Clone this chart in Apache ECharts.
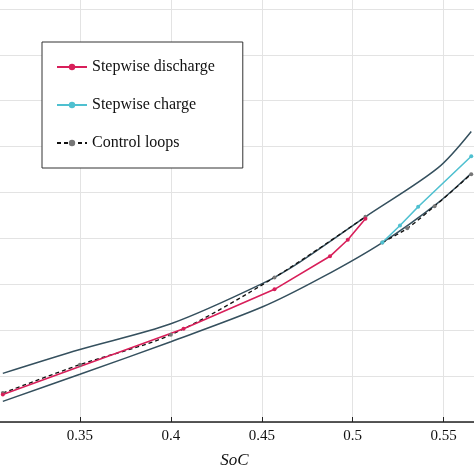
<!DOCTYPE html>
<html><head><meta charset="utf-8">
<script src="https://cdn.jsdelivr.net/npm/echarts@6/dist/echarts.min.js"></script>
<style>html,body{margin:0;padding:0;background:#fff;overflow:hidden;width:474px;height:474px;position:relative}
#c{position:absolute;left:-14px;top:-37px;width:497px;height:511px}</style>
</head><body><div id="c"></div>
<script>
// boundary curves (upper / lower)
var upperBound = [[0.3076,1.06],[0.350,1.58],[0.400,2.14],[0.4505,3.02],[0.4707,3.48],[0.507,4.47],[0.5467,5.53],[0.5652,6.33]];
var lowerBound = [[0.3076,0.45],[0.350,1.04],[0.400,1.75],[0.4505,2.51],[0.483,3.15],[0.5163,3.91],[0.5467,4.77],[0.5652,5.42]];
var discharge = [[0.3076,0.60],[0.407,2.03],[0.457,2.89],[0.4875,3.61],[0.4973,3.97],[0.507,4.43]];
var charge = [[0.5163,3.91],[0.526,4.28],[0.536,4.69],[0.5652,5.79]];
var loopA = [[0.3076,0.63],[0.350,1.25],[0.400,1.90],[0.457,3.15],[0.507,4.47]];
var loopB = [[0.5163,3.91],[0.530,4.22],[0.545,4.70],[0.5652,5.40]];
var xTicks = [0.35, 0.4, 0.45, 0.5, 0.55];

var font = 'Liberation Serif';
var chart = echarts.init(document.getElementById('c'), null, {renderer: 'canvas'});
chart.setOption({
  animation: false,
  backgroundColor: '#fff',
  grid: {left: 0, right: 0, top: 0, bottom: 48},
  legend: {
    left: 56, top: 79, orient: 'vertical', itemGap: 22,
    padding: [17, 28, 17, 14], itemWidth: 30, itemHeight: 8,
    borderColor: '#333', borderWidth: 1, backgroundColor: '#fff',
    textStyle: {fontFamily: font, fontSize: 16, color: '#111'},
    data: ['Stepwise discharge', 'Stepwise charge', 'Control loops']
  },
  xAxis: {
    type: 'value', min: 0.3, max: 0.57, interval: 0.05,
    name: 'SoC', nameLocation: 'middle', nameGap: 30,
    nameTextStyle: {fontFamily: font, fontStyle: 'italic', fontSize: 17, color: '#111'},
    axisLine: {lineStyle: {color: '#222', width: 1.5}},
    axisTick: {inside: true, length: 5, lineStyle: {color: '#222'}},
    axisLabel: {fontFamily: font, fontSize: 15, color: '#111', margin: 7,
      formatter: function (v) { return xTicks.indexOf(+v.toFixed(2)) >= 0 ? String(+v.toFixed(2)) : ''; }},
    splitLine: {show: true, lineStyle: {color: '#e3e3e3'}}
  },
  yAxis: {
    type: 'value', min: 0, max: 10, interval: 1,
    axisLine: {show: false}, axisTick: {show: false}, axisLabel: {show: false},
    splitLine: {show: true, lineStyle: {color: '#e3e3e3'}}
  },
  series: [
    {type: 'line', smooth: 0.3, data: upperBound, symbol: 'none', silent: true,
     lineStyle: {color: '#35505e', width: 1.5}},
    {type: 'line', smooth: 0.3, data: lowerBound, symbol: 'none', silent: true,
     lineStyle: {color: '#35505e', width: 1.5}},
    {name: 'Control loops', type: 'line', smooth: 0.3, data: loopA, symbol: 'circle', symbolSize: 4,
     itemStyle: {color: '#777'}, lineStyle: {color: '#111', width: 1.3, type: [4, 3]}},
    {name: 'Control loops', type: 'line', smooth: 0.3, data: loopB, symbol: 'circle', symbolSize: 4,
     itemStyle: {color: '#777'}, lineStyle: {color: '#111', width: 1.3, type: [4, 3]}},
    {name: 'Stepwise discharge', type: 'line', data: discharge, symbol: 'circle', symbolSize: 4,
     itemStyle: {color: '#d81f5a'}, lineStyle: {color: '#d81f5a', width: 1.6}},
    {name: 'Stepwise charge', type: 'line', data: charge, symbol: 'circle', symbolSize: 4,
     itemStyle: {color: '#4fc0d0'}, lineStyle: {color: '#4fc0d0', width: 1.6}}
  ]
});
</script></body></html>
